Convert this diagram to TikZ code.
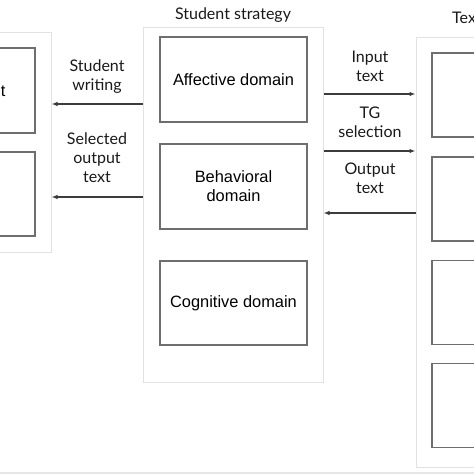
\documentclass[tikz,border=0pt]{standalone}
\usepackage{fontspec}
\setmainfont{Lato}
\newfontfamily\boxfont{Liberation Sans}
\usetikzlibrary{arrows.meta}
\definecolor{framegray}{HTML}{E2E2E2}
\definecolor{boxgray}{HTML}{6E6E6E}
\definecolor{arrowgray}{HTML}{3C3C3C}
\definecolor{stripgray}{HTML}{E6E6E6}
\tikzset{
	frame/.style={draw=framegray, line width=1pt, fill=white},
	dombox/.style={draw=boxgray, line width=1.3pt, minimum width=147pt, align=center, font=\boxfont\fontsize{16.4}{19}\selectfont},
	lab/.style={align=center, text=black!90, font=\fontsize{16}{19}\selectfont},
	flow/.style={draw=arrowgray, line width=1.1pt, -{Latex[length=6pt,width=4.5pt]}}
}
\begin{document}
\begin{tikzpicture}[x=1pt,y=-1pt]
	\useasboundingbox (0,0) rectangle (474,474);
	\clip (0,0) rectangle (474,474);
	% frames
	\node[frame, minimum width=180pt, minimum height=355pt] (strat) at (233,204.5) {};
	\node[frame, minimum width=180pt, minimum height=220pt] (lefts) at (-39,142) {};
	\node[frame, minimum width=179pt, minimum height=430pt] (texts) at (505.5,252) {};
	\node[lab] (strattitle) at (233,15) {Student strategy};
	\node[lab, anchor=west, inner sep=0pt] (texttitle) at (452,18) {Tex};
	% domain boxes
	\node[dombox, minimum height=85pt] (affect) at (233.5,79.5) {Affective domain};
	\node[dombox, minimum height=85pt] (behav) at (233.5,186.5) {Behavioral\\domain};
	\node[dombox, minimum height=84pt] (cogn) at (233.5,303) {Cognitive domain};
	\node[dombox, minimum height=85pt] (left1) at (-38.5,90.5) {};
	\node[dombox, minimum height=84pt] (left2) at (-38.5,194) {};
	\node[dombox, anchor=east, minimum width=0pt, inner sep=0pt, draw=none] (leftt) at (6,91) {t};
	\foreach \n/\y in {1/95,2/199,3/302.5,4/405.5}
		\node[dombox, minimum height=84pt] (tbox\n) at (505.5,\y) {};
	% flows
	\coordinate (y1) at (0,104);
	\coordinate (y2) at (0,197);
	\coordinate (y3) at (0,94);
	\coordinate (y4) at (0,151);
	\coordinate (y5) at (0,213);
	\draw[flow] (strat.west |- y1) -- (lefts.east |- y1);
	\draw[flow] (strat.west |- y2) -- (lefts.east |- y2);
	\draw[flow] (strat.east |- y3) -- (texts.west |- y3);
	\draw[flow] (strat.east |- y4) -- (texts.west |- y4);
	\draw[flow] (texts.west |- y5) -- (strat.east |- y5);
	\node[lab] (writing) at (97,76.5) {Student\\writing};
	\node[lab] (selected) at (97,157.5) {Selected\\output\\text};
	\node[lab] (input) at (370,66.5) {Input\\text};
	\node[lab] (tgsel) at (370,122.5) {TG\\selection};
	\node[lab] (output) at (370,178) {Output\\text};
	\fill[stripgray] (0,471.5) rectangle (474,474);
\end{tikzpicture}
\end{document}
